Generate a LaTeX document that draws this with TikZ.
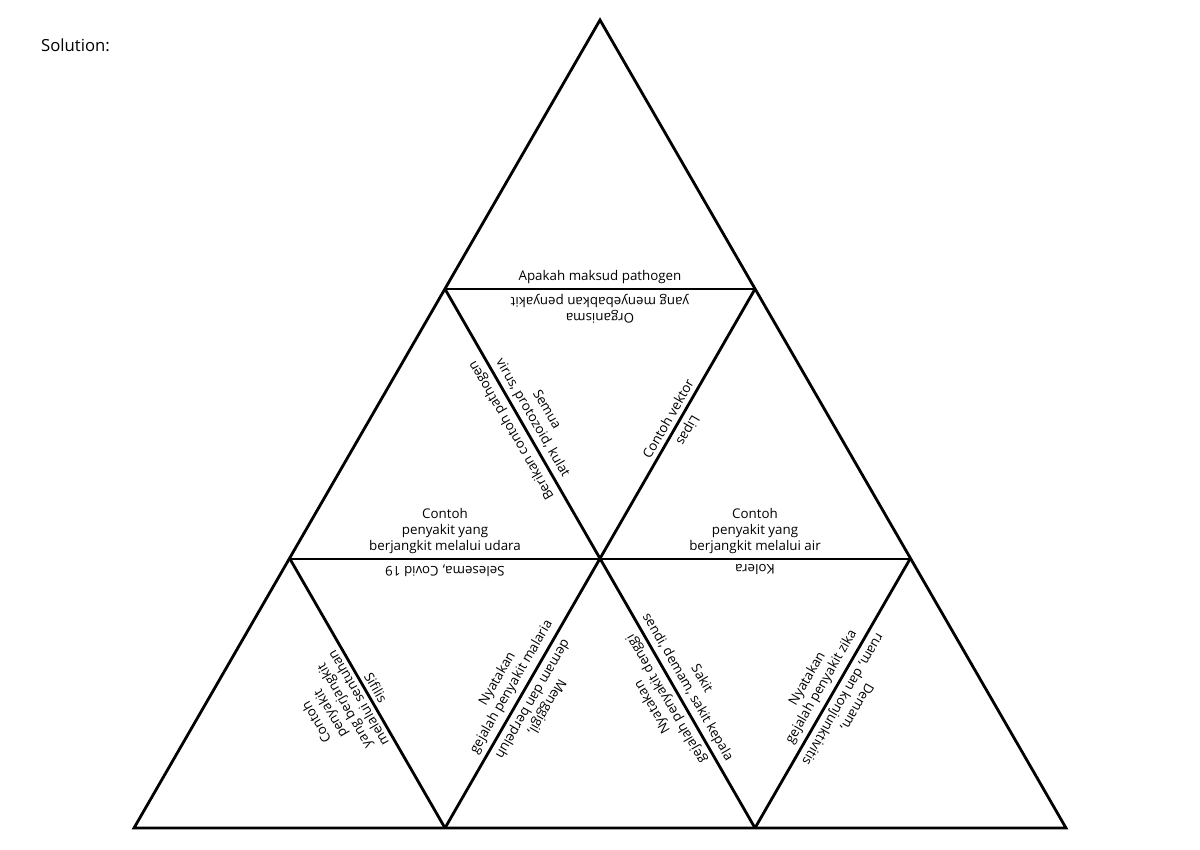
\documentclass[tikz,border=0pt]{standalone}
\usepackage{fontspec}
\setmainfont{Open Sans}
\begin{document}
\begin{tikzpicture}[x=0.02cm,y=-0.02cm,
  edge/.style={line width=1.6pt,line join=miter},
  t/.style={font=\fontsize{7.6}{9.2}\selectfont,align=center,anchor=south,inner sep=2.8pt}]
\useasboundingbox (0,0) rectangle (1200,849);
\coordinate (A) at (600,20);
\coordinate (B1) at (445,289); \coordinate (B2) at (755,289);
\coordinate (C1) at (290,559); \coordinate (C2) at (600,559); \coordinate (C3) at (910,559);
\coordinate (D1) at (134,828); \coordinate (D2) at (445,828); \coordinate (D3) at (755,828); \coordinate (D4) at (1066,828);
\draw[edge] (A) -- (D1) -- (D4) -- cycle;
\draw[edge] (B1) -- (B2);
\draw[edge] (B1) -- (D3);
\draw[edge] (B2) -- (D2);
\draw[edge] (C1) -- (C3);
\draw[edge] (C1) -- (D2);
\draw[edge] (C3) -- (D3);
\node[font=\fontsize{9.5}{11}\selectfont,anchor=west] (sol) at (35,45) {Solution:};
% top horizontal
\node[t] (q1) at (600,289) {Apakah maksud pathogen};
\node[t,rotate=180] (a1) at (600,289) {Organisma\\yang menyebabkan penyakit};
% B1-C2
\node[t,rotate=120] (q2) at (522,424) {Berikan contoh pathogen};
\node[t,rotate=-60] (a2) at (522,424) {Semua\\virus, protozoid, kulat};
% B2-C2
\node[t,rotate=60] (q3) at (677,424) {Contoh vektor};
\node[t,rotate=240] (a3) at (677,424) {Lipas};
% C1-C2, C2-C3
\node[t] (q4) at (445,559) {Contoh\\penyakit yang\\berjangkit melalui udara};
\node[t,rotate=180] (a4) at (445,559) {Selesema, Covid 19};
\node[t] (q5) at (755,559) {Contoh\\penyakit yang\\berjangkit melalui air};
\node[t,rotate=180] (a5) at (755,559) {Kolera};
% C1-D2
\node[t,rotate=120] (q6) at (367,693) {Contoh\\penyakit\\yang berjangkit\\melalui sentuhan};
\node[t,rotate=-60] (a6) at (367,693) {Sifilis};
% C2-D2
\node[t,rotate=60] (q7) at (522,693) {Nyatakan\\gejalah penyakit malaria};
\node[t,rotate=240] (a7) at (522,693) {Menggigil,\\demam dan berpeluh};
% C2-D3
\node[t,rotate=120] (q8) at (677,693) {Nyatakan\\gejalah penyakit denggi};
\node[t,rotate=-60] (a8) at (677,693) {Sakit\\sendi, demam, sakit kepala};
% C3-D3
\node[t,rotate=60] (q9) at (832,693) {Nyatakan\\gejalah penyakit zika};
\node[t,rotate=240] (a9) at (832,693) {Demam,\\ruam, dan konjunktivitis};
\end{tikzpicture}
\end{document}
